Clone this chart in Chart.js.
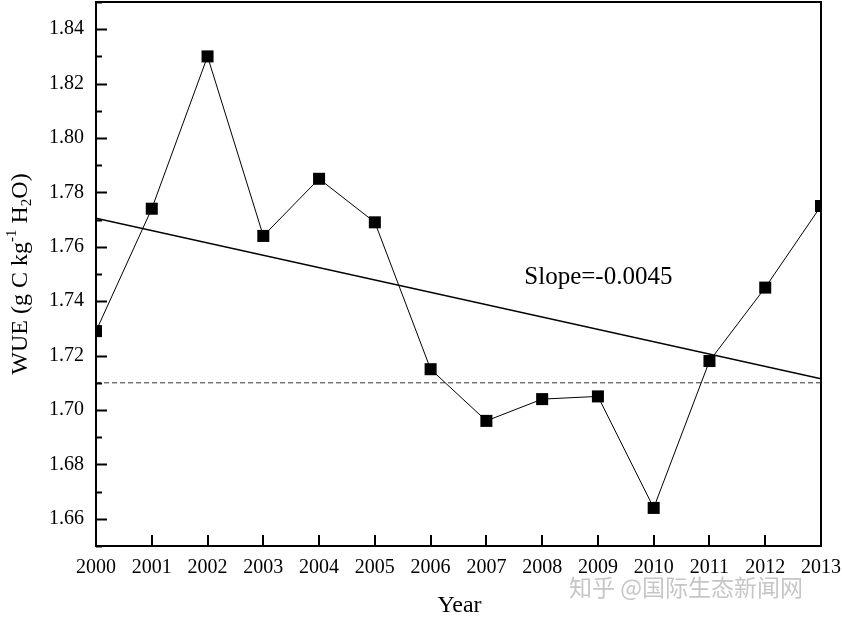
<!DOCTYPE html>
<html>
<head>
<meta charset="utf-8">
<script src="https://cdn.jsdelivr.net/npm/chart.js@4"></script>
<style>
  html, body { margin: 0; padding: 0; background: #fff; }
  #wrap { width: 842px; height: 620px; }
</style>
</head>
<body>
<div id="wrap"><canvas id="wueChart" width="842" height="620"></canvas></div>
<script>
// values
const years = [2000, 2001, 2002, 2003, 2004, 2005, 2006, 2007, 2008, 2009, 2010, 2011, 2012, 2013];
const wue = [1.729, 1.774, 1.830, 1.764, 1.785, 1.769, 1.715, 1.696, 1.704, 1.705, 1.664, 1.718, 1.745, 1.775];
const trendYears = [2000, 2013];
const trendValues = [1.7705, 1.7115];
const refLine = [1.71, 1.71];
const slopeLabel = "Slope=-0.0045";
const yRange = [1.65, 1.85];

const serif = "'Liberation Serif', 'Times New Roman', serif";

const toPoints = (xs, ys) => xs.map((x, i) => ({ x: x, y: ys[i] }));

// frame, inward ticks, titles and text
const decorations = {
  id: "decorations",
  afterDraw(chart) {
    const ctx = chart.ctx;
    const area = chart.chartArea;
    const xs = chart.scales.x;
    const ys = chart.scales.y;
    ctx.save();
    ctx.strokeStyle = "#000";
    ctx.lineWidth = 2;

    // inward ticks
    ctx.beginPath();
    ys.ticks.forEach(t => {
      const py = Math.round(ys.getPixelForValue(t.value)) + 0.5;
      const major = Math.round(t.value * 100) % 2 === 0;
      ctx.moveTo(area.left, py);
      ctx.lineTo(area.left + (major ? 11 : 6), py);
    });
    xs.ticks.forEach(t => {
      const px = Math.round(xs.getPixelForValue(t.value));
      ctx.moveTo(px, area.bottom);
      ctx.lineTo(px, area.bottom - 11);
    });
    ctx.stroke();

    ctx.strokeRect(area.left, area.top, area.right - area.left, area.bottom - area.top);

    // slope text
    ctx.fillStyle = "#000";
    ctx.font = "25px " + serif;
    ctx.textBaseline = "middle";
    ctx.textAlign = "left";
    ctx.fillText(slopeLabel, xs.getPixelForValue(2007.68), ys.getPixelForValue(1.7488));

    // x title
    ctx.textAlign = "center";
    ctx.font = "24px " + serif;
    ctx.fillText("Year", (area.left + area.right) / 2 + 1, 606);

    // y title with super/subscripts
    const parts = [
      { t: "WUE (g C kg", size: 24, dy: 0 },
      { t: "-1", size: 15, dy: -9 },
      { t: " H", size: 24, dy: 0 },
      { t: "2", size: 15, dy: 6 },
      { t: "O)", size: 24, dy: 0 }
    ];
    let total = 0;
    parts.forEach(p => {
      ctx.font = p.size + "px " + serif;
      p.w = ctx.measureText(p.t).width;
      total += p.w;
    });
    ctx.translate(21, (area.top + area.bottom) / 2);
    ctx.rotate(-Math.PI / 2);
    ctx.textAlign = "left";
    let cx = -total / 2;
    parts.forEach(p => {
      ctx.font = p.size + "px " + serif;
      ctx.fillText(p.t, cx, p.dy);
      cx += p.w;
    });
    ctx.restore();

    // watermark
    ctx.save();
    ctx.font = "23px 'Noto Sans CJK SC', sans-serif";
    ctx.fillStyle = "#c6c6c6";
    ctx.textBaseline = "middle";
    ctx.textAlign = "left";
    ctx.fillText("知乎 @国际生态新闻网", 569, 587);
    ctx.restore();
  }
};

new Chart(document.getElementById("wueChart"), {
  type: "line",
  data: {
    datasets: [
      {
        label: "WUE",
        data: toPoints(years, wue),
        borderColor: "#000",
        borderWidth: 1,
        backgroundColor: "#000",
        pointStyle: "rect",
        pointRadius: 8.5,
        pointBorderWidth: 0,
        tension: 0,
        clip: 0
      },
      {
        label: "Trend",
        data: toPoints(trendYears, trendValues),
        borderColor: "#000",
        borderWidth: 1.6,
        pointRadius: 0,
        clip: 0
      },
      {
        label: "Reference",
        data: toPoints(trendYears, refLine),
        borderColor: "#333",
        borderWidth: 1,
        borderDash: [5, 3],
        pointRadius: 0,
        clip: 0
      }
    ]
  },
  options: {
    responsive: false,
    animation: false,
    layout: { autoPadding: false, padding: { top: 2, right: 21, left: 0, bottom: 0 } },
    plugins: {
      legend: { display: false },
      tooltip: { enabled: false }
    },
    scales: {
      x: {
        type: "linear",
        min: years[0],
        max: years[years.length - 1],
        grid: { display: false, drawTicks: false },
        border: { display: false },
        afterFit: s => {
          s.height = 74;
          s.paddingLeft = 0;
          s.paddingRight = 0;
        },
        ticks: {
          stepSize: 1,
          autoSkip: false,
          maxRotation: 0,
          padding: 10,
          color: "#000",
          font: { family: serif, size: 20 },
          callback: v => String(v)
        }
      },
      y: {
        min: yRange[0],
        max: yRange[1],
        grid: { display: false, drawTicks: false },
        border: { display: false },
        afterFit: s => {
          s.width = 96;
          s.paddingTop = 0;
          s.paddingBottom = 0;
        },
        ticks: {
          stepSize: 0.01,
          autoSkip: false,
          padding: 12,
          color: "#000",
          font: { family: serif, size: 20 },
          callback: v => (Math.round(v * 100) % 2 === 0 ? v.toFixed(2) : "")
        }
      }
    }
  },
  plugins: [decorations]
});
</script>
</body>
</html>
